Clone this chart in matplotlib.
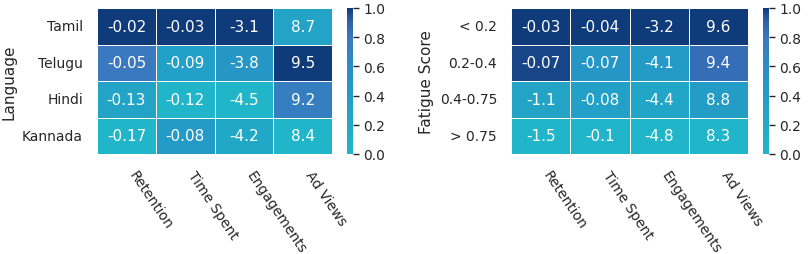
import numpy as np
import matplotlib
matplotlib.use("Agg")
import matplotlib.pyplot as plt
import seaborn as sns
from matplotlib.colors import LinearSegmentedColormap

metrics = ["Retention", "Time Spent", "Engagements", "Ad Views"]

languages = ["Tamil", "Telugu", "Hindi", "Kannada"]
lang_retention = [-0.02, -0.05, -0.13, -0.17]
lang_time = [-0.03, -0.09, -0.12, -0.08]
lang_engage = [-3.1, -3.8, -4.5, -4.2]
lang_ads = [8.7, 9.5, 9.2, 8.4]

fatigue = ["< 0.2", "0.2-0.4", "0.4-0.75", "> 0.75"]
fat_retention = [-0.03, -0.07, -1.1, -1.5]
fat_time = [-0.04, -0.07, -0.08, -0.1]
fat_engage = [-3.2, -4.1, -4.4, -4.8]
fat_ads = [9.6, 9.4, 8.8, 8.3]

sns.set_theme(style="white")
plt.rcParams['font.family'] = ['DejaVu Sans']

cmap = LinearSegmentedColormap.from_list(
    "teal_navy",
    [(0.0, "#20b5c8"), (0.5, "#2596c6"), (0.8, "#3a78c0"),
     (0.92, "#2c5ea6"), (1.0, "#0f3b7a")])


def colnorm(vals):
    v = np.array(vals, dtype=float)
    return (v - v.min(axis=0)) / (v.max(axis=0) - v.min(axis=0))


def draw(ax, cax, cols, rows, ylabel):
    vals = np.array(cols).T
    sns.heatmap(colnorm(vals), ax=ax, cbar_ax=cax, cmap=cmap, vmin=0, vmax=1,
                annot=vals, fmt=".2g", annot_kws={"size": 11, "color": "white"},
                linewidths=0.7, linecolor="white",
                xticklabels=metrics, yticklabels=rows)
    ax.set_ylabel(ylabel, fontsize=11)
    ax.tick_params(axis="y", length=0, labelsize=10, pad=10)
    ax.tick_params(axis="x", length=0, labelsize=10, pad=10)
    ax.set_yticklabels(rows, rotation=0)
    ax.set_xticklabels(metrics, rotation=-56, ha="left")
    cax.tick_params(labelsize=10, length=4, width=1, left=False, right=True)
    cax.set_yticks([0, 0.2, 0.4, 0.6, 0.8, 1.0])
    for s in cax.spines.values():
        s.set_visible(False)


fig = plt.figure(figsize=(8.08, 2.55), dpi=100)
ax1 = fig.add_axes([97 / 808, 1 - 155 / 255, 235 / 808, 146 / 255])
cax1 = fig.add_axes([347 / 808, 1 - 155 / 255, 6 / 808, 146 / 255])
ax2 = fig.add_axes([511 / 808, 1 - 155 / 255, 237 / 808, 146 / 255])
cax2 = fig.add_axes([763 / 808, 1 - 155 / 255, 6 / 808, 146 / 255])

draw(ax1, cax1, [lang_retention, lang_time, lang_engage, lang_ads], languages, "Language")
draw(ax2, cax2, [fat_retention, fat_time, fat_engage, fat_ads], fatigue, "Fatigue Score")

fig.savefig("out.png", dpi=100)
